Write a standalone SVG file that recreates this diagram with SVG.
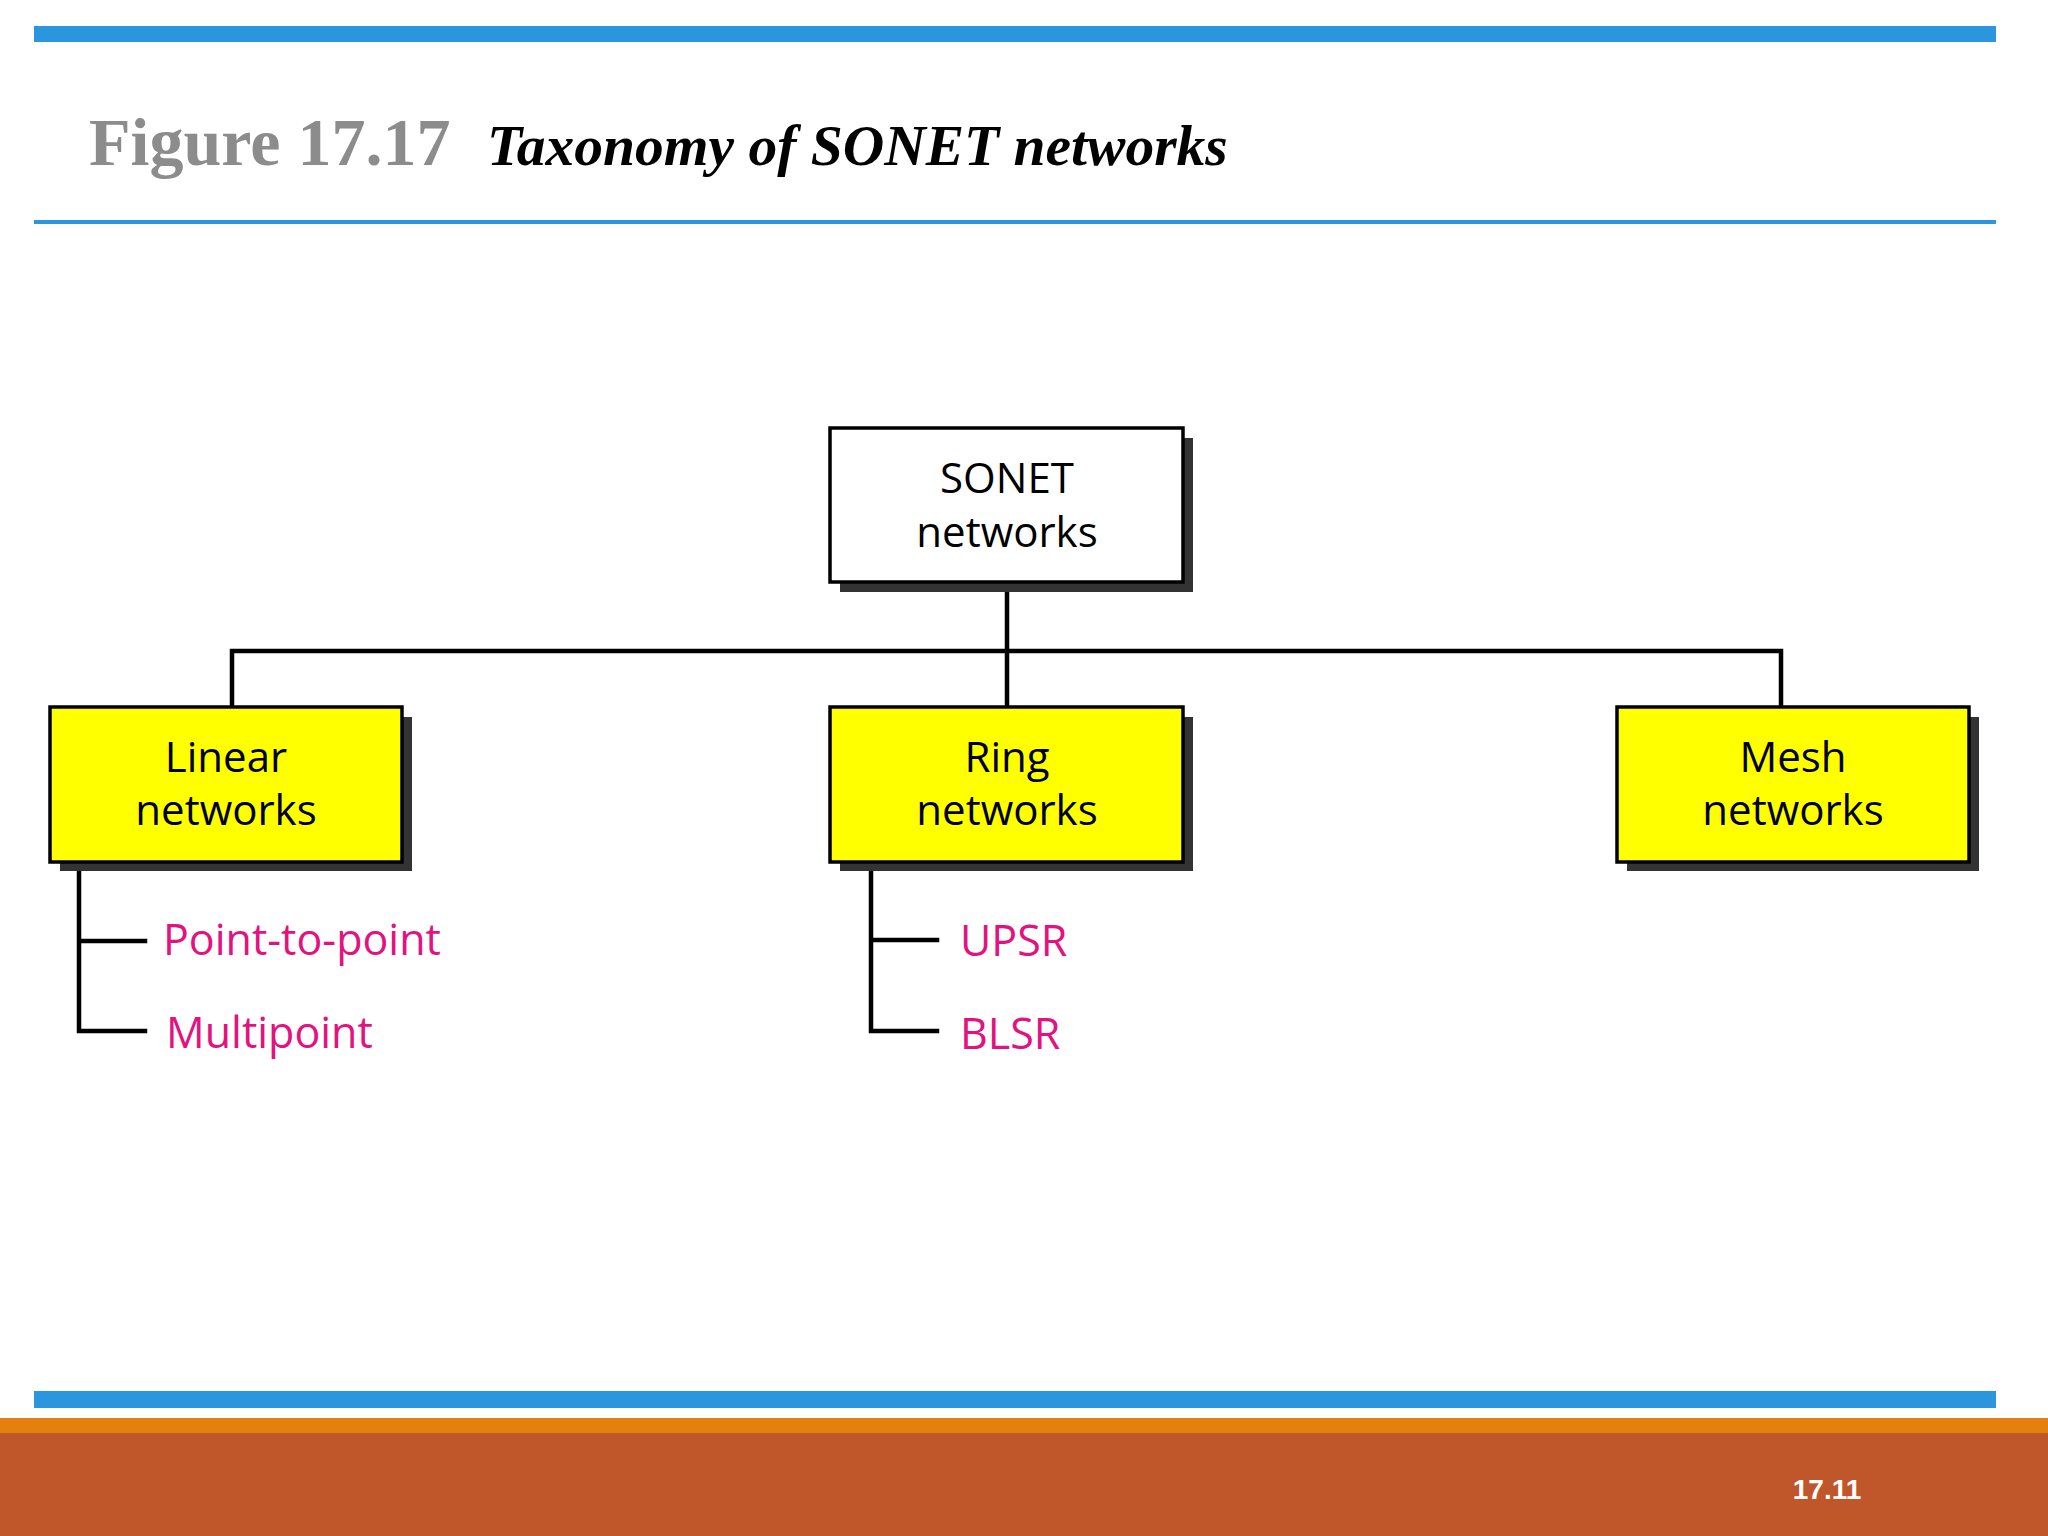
<svg xmlns="http://www.w3.org/2000/svg" width="2048" height="1536" viewBox="0 0 2048 1536">
<style>
.box{stroke:#000;stroke-width:3.5}
.yel{fill:#ffff00}
.wht{fill:#fff}
.shadow{fill:#333}
.lbl{font-family:"Open Sans","Noto Sans",sans-serif;font-size:42px;fill:#000;text-anchor:middle}
.sub{font-family:"Open Sans","Noto Sans",sans-serif;font-size:43px;fill:#e2127f}
.conn{stroke:#000;stroke-width:4.5;fill:none;stroke-linecap:square}
</style>
<rect x="0" y="0" width="2048" height="1536" fill="#fff"/>
<g id="frame">
<rect x="34" y="26" width="1962" height="16" fill="#2b96de"/>
<rect x="34" y="220" width="1962" height="4" fill="#2b96de"/>
<rect x="34" y="1391" width="1962" height="17" fill="#2b96de"/>
<rect x="0" y="1418" width="2048" height="15" fill="#e5800f"/>
<rect x="0" y="1433" width="2048" height="103" fill="#bf572a"/>
<text x="1827" y="1499" font-family="Liberation Sans,Arial,sans-serif" font-weight="bold" font-size="28" fill="#fff" text-anchor="middle">17.11</text>
</g>
<g id="title">
<text x="89" y="165" font-family="Liberation Serif,Times New Roman,serif" font-weight="bold" font-size="68" fill="#8c8c8c">Figure 17.17</text>
<text x="487" y="165" font-family="Liberation Serif,Times New Roman,serif" font-weight="bold" font-style="italic" font-size="57.5" fill="#000">Taxonomy of SONET networks</text>
</g>
<g id="connectors">
<path class="conn" d="M1007 582 V651 M232 707 V651 H1781 V707 M1007 651 V707"/>
<path class="conn" d="M79 862 V1031 H145 M79 941 H145"/>
<path class="conn" d="M871 862 V1031 H937 M871 940 H937"/>
</g>
<g id="sonet">
<rect class="shadow" x="840" y="438" width="353" height="154"/>
<rect class="box wht" x="830" y="428" width="353" height="154"/>
<text class="lbl" x="1007" y="493">SONET</text>
<text class="lbl" x="1007" y="547">networks</text>
</g>
<g id="linear">
<rect class="shadow" x="60" y="717" width="352" height="154"/>
<rect class="box yel" x="50" y="707" width="352" height="155"/>
<text class="lbl" x="226" y="772">Linear</text>
<text class="lbl" x="226" y="825">networks</text>
</g>
<g id="ring">
<rect class="shadow" x="840" y="717" width="353" height="154"/>
<rect class="box yel" x="830" y="707" width="353" height="155"/>
<text class="lbl" x="1007" y="772">Ring</text>
<text class="lbl" x="1007" y="825">networks</text>
</g>
<g id="mesh">
<rect class="shadow" x="1627" y="717" width="352" height="154"/>
<rect class="box yel" x="1617" y="707" width="352" height="155"/>
<text class="lbl" x="1793" y="772">Mesh</text>
<text class="lbl" x="1793" y="825">networks</text>
</g>
<g id="point-to-point"><text class="sub" x="163" y="955">Point-to-point</text></g>
<g id="multipoint"><text class="sub" x="166" y="1048">Multipoint</text></g>
<g id="upsr"><text class="sub" x="960" y="956">UPSR</text></g>
<g id="blsr"><text class="sub" x="960" y="1049">BLSR</text></g>
</svg>
